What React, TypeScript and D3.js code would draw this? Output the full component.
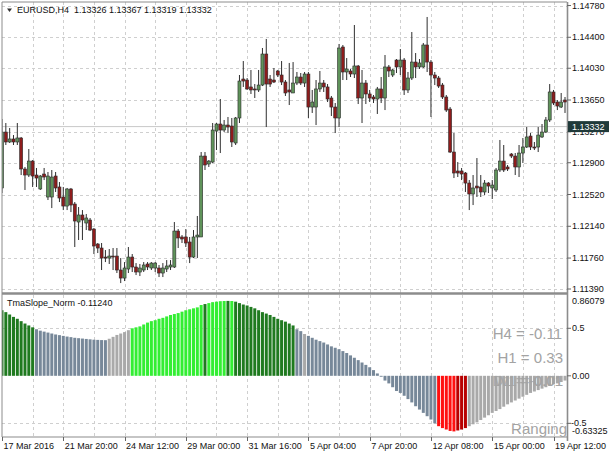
import React from 'react';
import * as d3 from 'd3';

const openP = [
  1.12598,1.13267,1.13148,1.13184,1.13148,1.13196,1.12825,1.12753,1.12920,1.12753,
  1.12586,1.12765,1.12490,1.12490,1.12741,1.12610,1.12490,1.12382,1.12586,1.12406,
  1.12191,1.12275,1.12179,1.12215,1.12107,1.11928,1.11880,1.11772,1.11760,1.11784,
  1.11784,1.11617,1.11521,1.11629,1.11772,1.11653,1.11593,1.11617,1.11689,1.11641,
  1.11641,1.11641,1.11581,1.11629,1.11653,1.11653,1.12083,1.12012,1.12012,1.11952,
  1.11772,1.12012,1.12012,1.12980,1.12885,1.12908,1.13279,1.13363,1.13291,1.13351,
  1.13339,1.13136,1.13435,1.13901,1.13889,1.13806,1.13782,1.13770,1.13829,1.14200,
  1.13901,1.13889,1.13997,1.13949,1.13865,1.13770,1.13734,1.13853,1.13925,1.13853,
  1.13961,1.13566,1.13566,1.13782,1.13853,1.13806,1.13674,1.13566,1.13435,1.14284,
  1.13985,1.13997,1.13961,1.14057,1.13674,1.13853,1.13722,1.13686,1.13662,1.13782,
  1.13674,1.14045,1.13949,1.14128,1.14045,1.14128,1.13770,1.13913,1.14104,1.14045,
  1.14045,1.14308,1.14104,1.13949,1.13913,1.13829,1.13686,1.13542,1.13028,1.12801,
  1.12801,1.12777,1.12657,1.12526,1.12621,1.12610,1.12550,1.12657,1.12598,1.12574,
  1.12813,1.12920,1.12849,1.13004,1.12980,1.12849,1.13016,1.13088,1.13219,1.13088,
  1.13088,1.13208,1.13267,1.13411,1.13746,1.13626,1.13566,1.13650,
];
const highP = [
  1.13423,1.13375,1.13315,1.13231,1.13375,1.13208,1.12849,1.13064,1.12932,1.12837,
  1.12753,1.12837,1.12789,1.12813,1.12789,1.12669,1.12610,1.12598,1.12598,1.12430,
  1.12370,1.12334,1.12287,1.12239,1.12119,1.11940,1.11940,1.11856,1.11868,1.11880,
  1.11880,1.11760,1.11712,1.11892,1.11808,1.11700,1.11689,1.11712,1.11712,1.11712,
  1.11712,1.11677,1.11700,1.11736,1.11736,1.12191,1.12107,1.12035,1.12107,1.12012,
  1.12095,1.12263,1.13028,1.13028,1.12932,1.13375,1.13375,1.13662,1.13411,1.13447,
  1.13435,1.13447,1.13949,1.14116,1.13913,1.14009,1.13841,1.14009,1.14272,1.14380,
  1.13949,1.14033,1.14009,1.14116,1.13889,1.14093,1.14104,1.13985,1.13973,1.13985,
  1.13985,1.13770,1.13889,1.13997,1.13889,1.13841,1.13698,1.13614,1.14320,1.14308,
  1.14152,1.14021,1.14547,1.14069,1.14009,1.13889,1.13770,1.13710,1.13806,1.13925,
  1.14188,1.14069,1.14021,1.14140,1.14260,1.14152,1.13985,1.14463,1.14212,1.14140,
  1.14332,1.14643,1.14128,1.13985,1.13937,1.13853,1.13710,1.13566,1.13255,1.12908,
  1.12837,1.12789,1.12693,1.12753,1.12956,1.12753,1.12693,1.12669,1.12693,1.12837,
  1.13172,1.13112,1.12873,1.13016,1.13016,1.13112,1.13196,1.13327,1.13255,1.13148,
  1.13327,1.13363,1.13447,1.13841,1.13770,1.13650,1.13734,1.13686,
];
const lowP = [
  1.12538,1.13112,1.13136,1.13112,1.13112,1.12753,1.12574,1.12729,1.12610,1.12610,
  1.12574,1.12693,1.12454,1.12358,1.12550,1.12430,1.12334,1.12334,1.12310,1.11892,
  1.11976,1.11976,1.12095,1.12083,1.11808,1.11820,1.11617,1.11712,1.11689,1.11617,
  1.11581,1.11461,1.11485,1.11581,1.11593,1.11557,1.11545,1.11593,1.11617,1.11617,
  1.11593,1.11533,1.11533,1.11593,1.11617,1.11641,1.11880,1.11940,1.11892,1.11700,
  1.11760,1.11760,1.12012,1.12813,1.12849,1.12897,1.13052,1.13016,1.13267,1.13255,
  1.13088,1.13112,1.13375,1.13806,1.13770,1.13722,1.13674,1.13746,1.13817,1.13327,
  1.13806,1.13853,1.13925,1.13829,1.13698,1.13590,1.13734,1.13829,1.13829,1.13806,
  1.13435,1.13495,1.13351,1.13746,1.13746,1.13626,1.13459,1.13255,1.13327,1.13889,
  1.13889,1.13925,1.13913,1.13602,1.13375,1.13602,1.13626,1.13614,1.13483,1.13614,
  1.13530,1.13925,1.13925,1.13973,1.13949,1.13710,1.13734,1.13889,1.13913,1.14021,
  1.14033,1.13985,1.13447,1.13829,1.13794,1.13662,1.13507,1.13016,1.12717,1.12729,
  1.12693,1.12550,1.12334,1.12394,1.12490,1.12490,1.12514,1.12538,1.12466,1.12550,
  1.12789,1.12789,1.12801,1.12956,1.12753,1.12729,1.12897,1.13076,1.13052,1.13052,
  1.13028,1.13196,1.13255,1.13387,1.13590,1.13530,1.13554,1.13495,
];
const closeP = [
  1.13267,1.13148,1.13184,1.13148,1.13196,1.12825,1.12753,1.12920,1.12741,1.12717,
  1.12741,1.12729,1.12741,1.12729,1.12598,1.12478,1.12382,1.12586,1.12394,1.12203,
  1.12275,1.12215,1.12239,1.12095,1.11904,1.11880,1.11760,1.11760,1.11784,1.11772,
  1.11617,1.11521,1.11641,1.11772,1.11653,1.11593,1.11641,1.11677,1.11653,1.11700,
  1.11700,1.11581,1.11641,1.11665,1.11677,1.12083,1.12000,1.11988,1.11940,1.11772,
  1.12012,1.12035,1.12980,1.12873,1.12920,1.13291,1.13363,1.13291,1.13351,1.13327,
  1.13148,1.13435,1.13877,1.13877,1.13782,1.13770,1.13770,1.13829,1.14200,1.13841,
  1.13841,1.13865,1.13949,1.13865,1.13734,1.13746,1.13853,1.13925,1.13853,1.13961,
  1.13566,1.13626,1.13782,1.13853,1.13806,1.13662,1.13566,1.13435,1.14272,1.13985,
  1.14021,1.13961,1.14057,1.13674,1.13853,1.13722,1.13674,1.13662,1.13782,1.13674,
  1.14045,1.13997,1.14009,1.14045,1.14128,1.13770,1.13913,1.14104,1.14045,1.14093,
  1.14308,1.14104,1.13949,1.13913,1.13817,1.13686,1.13530,1.13028,1.12777,1.12777,
  1.12765,1.12657,1.12526,1.12598,1.12598,1.12550,1.12657,1.12621,1.12633,1.12813,
  1.12920,1.12813,1.12825,1.12980,1.12849,1.13016,1.13088,1.13208,1.13088,1.13076,
  1.13231,1.13267,1.13411,1.13746,1.13614,1.13578,1.13626,1.13626,
];

const tmaSlope = [
  0.69,0.67,0.645,0.62,0.60,0.575,0.55,0.53,0.51,
  0.49,0.475,0.465,0.455,0.445,0.435,0.428,0.42,0.413,0.407,0.40,0.396,0.392,0.388,0.384,0.38,0.378,0.376,0.375,
  0.39,0.41,0.43,0.445,0.46,0.48,
  0.50,0.51,0.52,0.54,0.56,0.575,0.585,0.60,0.61,0.625,0.64,0.65,0.66,0.675,0.69,0.70,0.71,0.72,
  0.745,0.755,0.765,0.775,0.78,0.785,0.787,0.788,0.787,0.78,
  0.765,0.75,0.74,0.725,0.71,0.69,0.67,0.655,0.64,0.62,0.60,0.585,0.57,0.55,0.53,
  0.49,0.47,0.44,0.42,0.40,0.38,0.365,0.35,0.33,0.31,0.295,0.28,0.26,0.24,0.215,0.19,0.165,0.14,0.115,0.09,0.06,
  0.025,-0.01,-0.05,-0.08,-0.12,-0.16,-0.18,-0.21,-0.245,-0.28,-0.32,-0.355,-0.39,-0.425,-0.46,-0.50,
  -0.53,-0.55,-0.565,-0.58,-0.585,-0.575,-0.565,-0.55,
  -0.53,-0.51,-0.49,-0.465,-0.44,-0.415,-0.39,-0.37,-0.35,-0.325,-0.30,-0.28,-0.26,-0.24,-0.22,-0.20,-0.18,-0.165,-0.15,-0.135,-0.12,-0.105,-0.09,-0.08,-0.065,-0.05,
];

// runs of histogram state: [state, count]
const slopeRuns: [string, number][] = [
  ['strongUp', 9], ['down', 19], ['flat', 6], ['up', 19], ['strongUp', 1], ['up', 5],
  ['strongUp', 1], ['up', 1], ['strongUp', 16], ['down', 2], ['flat', 1], ['down', 34],
  ['strongDown', 5], ['extremeDown', 3], ['flat', 26],
];
const stateColors: Record<string, string> = {
  strongUp: '#1f7a1f', up: '#33ee33', flat: '#a9a9a9', down: '#778899',
  strongDown: '#ff1010', extremeDown: '#b80000',
};

const priceTicks = [1.14780, 1.14400, 1.14030, 1.13650, 1.13270, 1.12900, 1.12520, 1.12140, 1.11760, 1.11390];
const timeLabels = ['17 Mar 2016', '21 Mar 20:00', '24 Mar 12:00', '29 Mar 00:00', '31 Mar 16:00',
  '5 Apr 04:00', '7 Apr 20:00', '12 Apr 08:00', '15 Apr 00:00', '19 Apr 12:00'];
const labelEvery = 16;
const gridEvery = 8;
const bidPrice = 1.13332;
const titleText = 'EURUSD,H4  1.13326 1.13367 1.13319 1.13332';
const indTitle = 'TmaSlope_Norm -0.11240';
const indMax = 0.86079;
const indMin = -0.63325;
const indLevels = [0.5, 0.0, -0.5];
const tfTexts = [['H4 = -0.11', 'H1 = 0.33']];

const FONT = "'Liberation Sans', Arial, sans-serif";

export default function App() {
  const n = openP.length;
  const x = d3.scaleLinear().domain([0, n - 1]).range([2, 2 + (n - 1) * 3.83]);
  const y = d3.scaleLinear().domain([1.11390, 1.14846]).range([289, 0]);
  const yi = d3.scaleLinear().domain([indMin, indMax]).range([436, 294]);

  const states: string[] = [];
  slopeRuns.forEach(([s, c]) => { for (let k = 0; k < c; k++) states.push(s); });

  const L = 2, R = 567, T = 2, MB = 293, IT = 295, IB = 437;
  const gridIdx = d3.range(gridEvery, n, gridEvery);
  const labelIdx = timeLabels.map((_, k) => k * labelEvery);

  return (
    <svg width={610} height={458} style={{ position: 'absolute', left: 0, top: 0, background: '#fff' }}
      fontFamily={FONT}>
      <defs>
        <clipPath id="mainClip"><rect x={L} y={T} width={R - L} height={MB - T} /></clipPath>
        <clipPath id="indClip"><rect x={L} y={IT} width={R - L} height={IB - IT} /></clipPath>
      </defs>
      <rect x={0} y={0} width={610} height={458} fill="#fff" />

      {/* grid main */}
      <g stroke="#cfcfcf" strokeDasharray="3,3" strokeWidth={1}>
        {priceTicks.map((p) => (
          <line key={'hp' + p} x1={L} x2={R} y1={Math.round(y(p)) + 0.5} y2={Math.round(y(p)) + 0.5} />
        ))}
        {gridIdx.map((i) => (
          <line key={'vg' + i} x1={Math.round(x(i)) + 0.5} x2={Math.round(x(i)) + 0.5} y1={T} y2={MB} />
        ))}
        {gridIdx.map((i) => (
          <line key={'vgi' + i} x1={Math.round(x(i)) + 0.5} x2={Math.round(x(i)) + 0.5} y1={IT} y2={IB} />
        ))}
        {indLevels.filter((v) => v !== 0).map((v) => (
          <line key={'il' + v} x1={L} x2={R} y1={Math.round(yi(v)) + 0.5} y2={Math.round(yi(v)) + 0.5} />
        ))}
      </g>

      {/* bid line */}
      <line x1={L} x2={R} y1={y(bidPrice)} y2={y(bidPrice)} stroke="#c8c8c8" strokeWidth={1} />

      {/* candles */}
      <g clipPath="url(#mainClip)">
        {openP.map((o, i) => {
          const c = closeP[i];
          const cx = x(i);
          const up = c >= o;
          const top = y(Math.max(o, c));
          const bot = y(Math.min(o, c));
          const h = Math.max(bot - top, 1);
          return (
            <g key={'c' + i}>
              <line x1={cx} x2={cx} y1={y(highP[i])} y2={y(lowP[i])} stroke="#2e2e2e" strokeWidth={1} />
              <rect x={cx - 1.5} y={top} width={3} height={h}
                fill={up ? '#5f935a' : '#8e1c1c'} stroke="#2a2a2a" strokeWidth={0.6} />
            </g>
          );
        })}
      </g>

      {/* indicator histogram */}
      <g clipPath="url(#indClip)">
        {tmaSlope.map((v, i) => {
          const y0 = yi(0), y1 = yi(v);
          return (
            <rect key={'h' + i} x={x(i) - 1.5} y={Math.min(y0, y1)} width={3}
              height={Math.max(Math.abs(y1 - y0), 0.8)} fill={stateColors[states[i]]} />
          );
        })}
      </g>

      {/* frames */}
      <g stroke="#8c8c8c" fill="none">
        <line x1={L} x2={L} y1={T} y2={IB} strokeWidth={1} />
        <line x1={L} x2={R} y1={T} y2={T} strokeWidth={1} />
        <line x1={L} x2={R + 1} y1={MB + 0.5} y2={MB + 0.5} strokeWidth={2.4} />
        <line x1={L} x2={R + 1} y1={IB} y2={IB} strokeWidth={1.2} />
        <line x1={R + 0.5} x2={R + 0.5} y1={T} y2={IB + 4} strokeWidth={1.6} />
      </g>

      {/* price axis */}
      <g fontSize={9} fill="#111">
        {priceTicks.map((p) => (
          <g key={'pl' + p}>
            <line x1={R} x2={R + 4} y1={y(p)} y2={y(p)} stroke="#666" />
            <text x={572} y={y(p)} dy="0.35em">{p.toFixed(5)}</text>
          </g>
        ))}
        <rect x={568} y={y(bidPrice) - 5.5} width={41} height={11} fill="#203a3a" />
        <text x={572} y={y(bidPrice)} dy="0.35em" fill="#fff">{bidPrice.toFixed(5)}</text>
      </g>

      {/* indicator axis */}
      <g fontSize={9} fill="#111">
        <text x={572} y={IT + 6} dy="0.35em">{indMax.toFixed(5)}</text>
        {indLevels.map((v) => (
          <g key={'ia' + v}>
            <line x1={R} x2={R + 4} y1={yi(v)} y2={yi(v)} stroke="#666" />
            <text x={v < 0 ? 571 : 572} y={yi(v)} dy="0.35em">{v === 0 ? '0.00' : String(v)}</text>
          </g>
        ))}
        <text x={572} y={IB - 6} dy="0.35em">{indMin.toFixed(5)}</text>
      </g>

      {/* time axis */}
      <g fontSize={9} fill="#111">
        {labelIdx.map((i, k) => (
          <g key={'tl' + i}>
            <line x1={Math.round(x(i)) + 0.5} x2={Math.round(x(i)) + 0.5} y1={IB} y2={IB + 4} stroke="#666" />
            <text x={Math.max(x(i), 2) + 1.5} y={449}>{timeLabels[k]}</text>
          </g>
        ))}
      </g>

      {/* titles */}
      <path d="M7,8.5 L12,8.5 L9.5,12 Z" fill="#333" />
      <text x={17} y={13} fontSize={9} fill="#111" style={{ whiteSpace: 'pre' }}>{titleText}</text>
      <text x={7} y={306} fontSize={9} fill="#111">{indTitle}</text>

      {/* indicator overlay texts */}
      <g fontSize={15} fill="#a3a3a3" textAnchor="end">
        <text x={562} y={339}>{tfTexts[0][0]}</text>
        <text x={563} y={363}>{tfTexts[0][1]}</text>
        <text x={563} y={386} opacity={0.8}>W1 = 0.01</text>
        <text x={563} y={386} opacity={0.8}>D1 = -0.01</text>
        <text x={567} y={434}>Ranging</text>
      </g>
    </svg>
  );
}
